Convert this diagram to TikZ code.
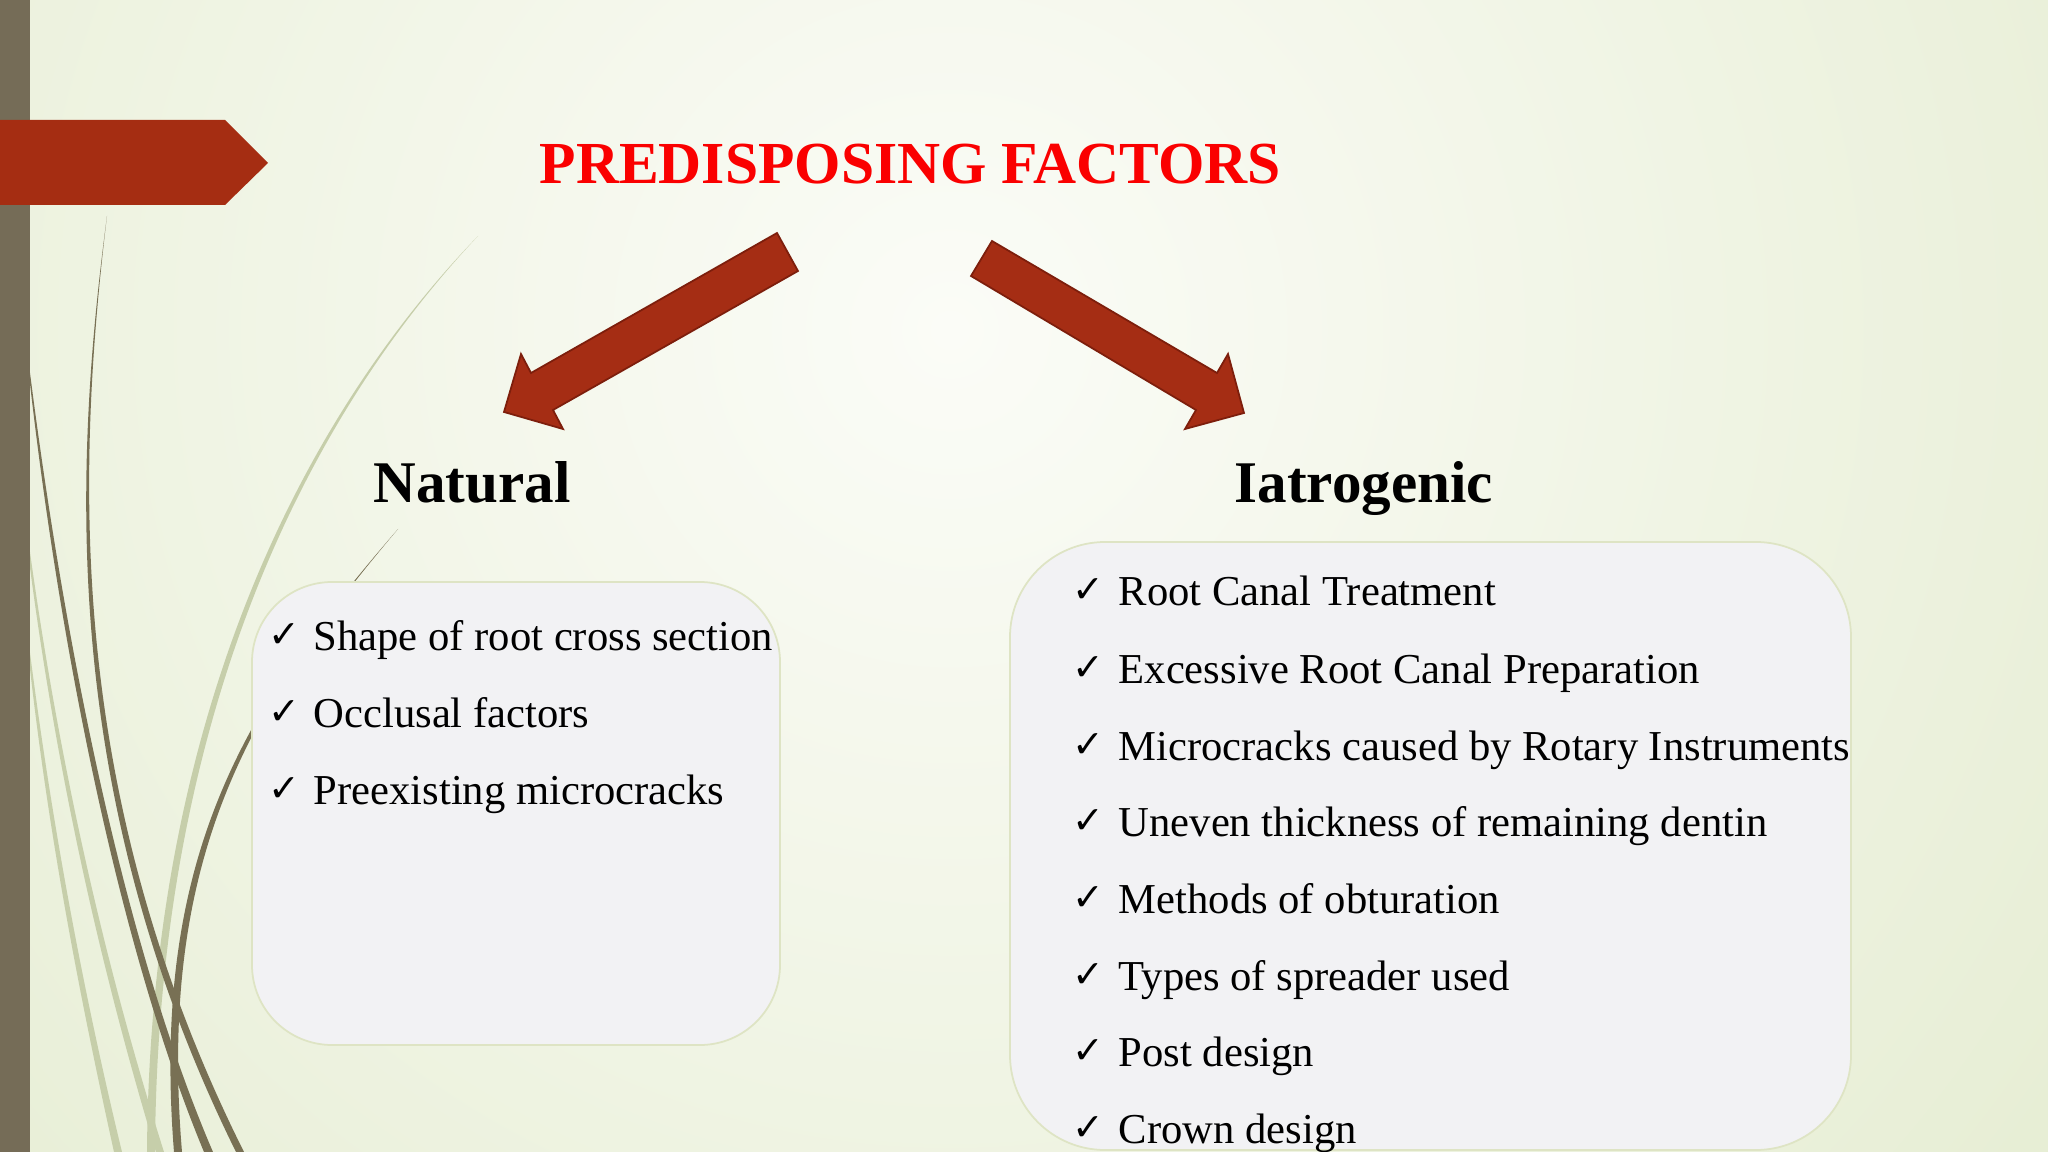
\documentclass[tikz,border=0pt]{standalone}
\usepackage{fontspec}
\setmainfont{Liberation Serif}
\newfontfamily\checkfont{DejaVu Sans}
\definecolor{bgin}{RGB}{251,252,247}
\definecolor{bgout}{RGB}{214,226,184}
\definecolor{barcol}{RGB}{117,108,87}
\definecolor{bannercol}{RGB}{165,45,18}
\definecolor{arrowfill}{RGB}{165,45,20}
\definecolor{arrowline}{RGB}{125,30,12}
\definecolor{titlered}{RGB}{250,0,0}
\definecolor{boxfill}{RGB}{242,242,244}
\definecolor{boxline}{RGB}{222,228,196}
\definecolor{wispdark}{RGB}{120,112,84}
\definecolor{wisppale}{RGB}{198,206,170}
\begin{document}
\begin{tikzpicture}[x=0.01cm,y=-0.01cm,
  titletext/.style={anchor=base west, inner sep=0, font=\fontsize{16.95pt}{20pt}\selectfont\bfseries, text=titlered},
  headtext/.style={anchor=base west, inner sep=0, font=\fontsize{16.8pt}{20pt}\selectfont\bfseries},
  itemtext/.style={anchor=base west, inner sep=0, font=\fontsize{12.12pt}{14pt}\selectfont},
  checkmark/.style={anchor=base west, inner sep=0, font=\checkfont\fontsize{10.8pt}{12pt}\selectfont},
  listbox/.style={fill=boxfill, draw=boxline, line width=0.5pt},
  blockarrow/.style={fill=arrowfill, draw=arrowline, line width=0.5pt, line join=miter},
  darkwisp/.style={fill=wispdark},
  palewisp/.style={fill=wisppale}]

\useasboundingbox (0,0) rectangle (2048,1152);
% background
\begin{scope}
  \clip (0,0) rectangle (2048,1152);
  \fill[bgout] (0,0) rectangle (2048,1152);
  \shade[inner color=bgin, outer color=bgout] (950,330) circle[radius=2500];

  % wisps (tapered strokes)
  \path[palewisp] (478,236) .. controls (300,420) and (150,720) .. (147,1152)
     -- (155,1152) .. controls (157,720) and (303,422) .. (478,236) -- cycle;
  \path[palewisp] (29,560) .. controls (60,800) and (110,1000) .. (156,1152)
     -- (164,1152) .. controls (116,1000) and (64,800) .. (29,545) -- cycle;
  \path[palewisp] (29,660) .. controls (50,850) and (85,1020) .. (114,1152)
     -- (122,1152) .. controls (90,1020) and (55,850) .. (29,645) -- cycle;
  \path[darkwisp] (107,216) .. controls (72,480) and (62,800) .. (236,1152)
     -- (244,1152) .. controls (68,800) and (75,480) .. (107,216) -- cycle;
  \path[darkwisp] (29,375) .. controls (60,650) and (120,950) .. (204,1152)
     -- (213,1152) .. controls (126,950) and (65,650) .. (29,365) -- cycle;
  \path[darkwisp] (398,529) .. controls (250,700) and (150,850) .. (174,1152)
     -- (182,1152) .. controls (157,850) and (254,700) .. (398,529) -- cycle;
\end{scope}

% left bar and banner
\fill[barcol] (0,0) rectangle (30,1152);
\fill[bannercol] (0,120) -- (225,120) -- (268,163) -- (225,205) -- (0,205) -- cycle;

% title
\node[titletext] (title) at (539,184) {PREDISPOSING FACTORS};

% block arrows
\filldraw[blockarrow] (777,233) -- (798,271) -- (553,410) -- (563,429) -- (504,412) -- (521,354) -- (531,373) -- cycle;
\filldraw[blockarrow] (992,241) -- (1217,373) -- (1228,354) -- (1244,413) -- (1185,429) -- (1196,410) -- (971,276) -- cycle;

% headings
\node[headtext] (natural) at (373,503) {Natural};
\node[headtext] (iatro) at (1234,503) {Iatrogenic};

% boxes
\draw[listbox, rounded corners=0.8cm] (252,582) rectangle (780,1045);
\draw[listbox, rounded corners=0.95cm] (1010,542) rectangle (1851,1150);

% left list
\node[checkmark] (lc1) at (268,647) {✓};
\node[itemtext] (l1) at (313,650) {Shape of root cross section};
\node[checkmark] (lc2) at (268,724) {✓};
\node[itemtext] (l2) at (313,727) {Occlusal factors};
\node[checkmark] (lc3) at (268,801) {✓};
\node[itemtext] (l3) at (313,804) {Preexisting microcracks};

% right list
\node[checkmark] (rc1) at (1072,603) {✓};
\node[itemtext] (r1) at (1118,606) {Root Canal Treatment};
\node[checkmark] (rc2) at (1072,680) {✓};
\node[itemtext] (r2) at (1118,683) {Excessive Root Canal Preparation};
\node[checkmark] (rc3) at (1072,757) {✓};
\node[itemtext] (r3) at (1118,760) {Microcracks caused by Rotary Instruments};
\node[checkmark] (rc4) at (1072,833) {✓};
\node[itemtext] (r4) at (1118,836) {Uneven thickness of remaining dentin};
\node[checkmark] (rc5) at (1072,910) {✓};
\node[itemtext] (r5) at (1118,913) {Methods of obturation};
\node[checkmark] (rc6) at (1072,987) {✓};
\node[itemtext] (r6) at (1118,990) {Types of spreader used};
\node[checkmark] (rc7) at (1072,1063) {✓};
\node[itemtext] (r7) at (1118,1066) {Post design};
\node[checkmark] (rc8) at (1072,1140) {✓};
\node[itemtext] (r8) at (1118,1143) {Crown design};
\end{tikzpicture}
\end{document}
